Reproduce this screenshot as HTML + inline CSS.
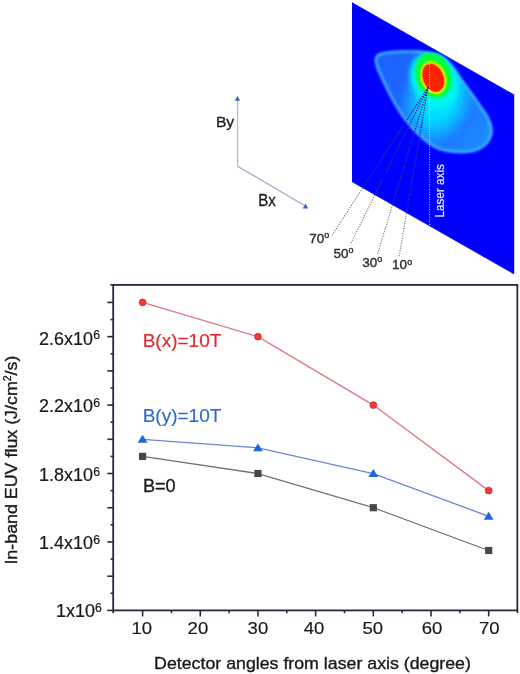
<!DOCTYPE html>
<html><head><meta charset="utf-8"><title>EUV flux vs detector angle</title>
<style>
html,body{margin:0;padding:0;background:#fff;}
body{width:520px;height:674px;overflow:hidden;}
svg{display:block;}
text{font-family:"Liberation Sans",Arial,sans-serif;}
</style></head>
<body>
<svg width="520" height="674" viewBox="0 0 520 674">
<defs>
  <clipPath id="plane"><polygon points="352,2.3 514.2,94.6 514.2,274.4 352,182"/></clipPath>
  <clipPath id="lens"><path d="M374.8,59.0 C375.2,57.3 375.6,55.2 377.5,54.0 C379.4,52.8 382.2,52.1 386.0,51.5 C389.8,50.9 395.2,50.5 400.0,50.3 C404.8,50.1 410.7,50.2 415.0,50.3 C419.3,50.4 422.5,50.5 426.0,51.0 C429.5,51.5 433.2,52.2 436.0,53.0 C438.8,53.8 440.7,54.5 443.0,56.0 C445.3,57.5 447.8,59.6 450.0,62.0 C452.2,64.4 454.5,67.8 456.5,70.5 C458.5,73.2 460.0,75.7 462.0,78.5 C464.0,81.3 466.3,84.5 468.5,87.5 C470.7,90.5 472.8,93.3 475.0,96.5 C477.2,99.7 479.8,103.2 482.0,106.5 C484.2,109.8 486.8,113.1 488.5,116.5 C490.2,119.9 491.8,123.7 492.3,127.0 C492.9,130.3 492.8,133.5 491.8,136.5 C490.8,139.5 489.0,142.6 486.5,145.0 C484.0,147.4 480.9,149.6 477.0,151.0 C473.1,152.4 467.5,152.9 463.0,153.2 C458.5,153.4 454.0,153.0 450.0,152.5 C446.0,152.0 442.5,151.3 439.0,150.0 C435.5,148.7 432.8,147.2 429.0,144.5 C425.2,141.8 420.5,138.1 416.0,133.5 C411.5,128.9 406.3,123.1 402.0,117.0 C397.7,110.9 393.8,104.1 390.0,97.0 C386.2,89.9 381.5,80.0 379.0,74.5 C376.5,69.0 375.9,66.6 375.2,64.0 C374.5,61.4 374.4,60.7 374.8,59.0 Z"/></clipPath>
  <radialGradient id="halo" cx="0" cy="0" r="1" gradientUnits="userSpaceOnUse" gradientTransform="translate(439 99) rotate(55) scale(54 40)">
    <stop offset="0" stop-color="#00f4ff"/>
    <stop offset="0.4" stop-color="#00d8ff"/>
    <stop offset="0.65" stop-color="#10a8ff"/>
    <stop offset="0.88" stop-color="#1a84ff" stop-opacity="0.6"/>
    <stop offset="1" stop-color="#1c6cff" stop-opacity="0"/>
  </radialGradient>
  <linearGradient id="lensbase" gradientUnits="userSpaceOnUse" x1="385" y1="60" x2="485" y2="145">
    <stop offset="0" stop-color="#1a62ff"/>
    <stop offset="0.5" stop-color="#1a6cff"/>
    <stop offset="1" stop-color="#1a8cff"/>
  </linearGradient>
  <filter id="blur06" x="-10%" y="-10%" width="120%" height="120%"><feGaussianBlur stdDeviation="0.6"/></filter>
  <filter id="blur1" x="-20%" y="-20%" width="140%" height="140%"><feGaussianBlur stdDeviation="1.2"/></filter>
  <filter id="blur2" x="-30%" y="-30%" width="160%" height="160%"><feGaussianBlur stdDeviation="2"/></filter>
  <filter id="blur4" x="-40%" y="-40%" width="180%" height="180%"><feGaussianBlur stdDeviation="4"/></filter>

</defs>

<!-- ===== 3D plane ===== -->
<polygon points="352,2.3 514.2,94.6 514.2,274.4 352,182" fill="#0000ff"/>
<g filter="url(#blur1)">
<g clip-path="url(#lens)">
  <rect x="370" y="45" width="130" height="112" fill="url(#lensbase)"/>
  <ellipse cx="439" cy="99" rx="54" ry="40" transform="rotate(55 439 99)" fill="url(#halo)"/>
  <path d="M374.8,59.0 C375.2,57.3 375.6,55.2 377.5,54.0 C379.4,52.8 382.2,52.1 386.0,51.5 C389.8,50.9 395.2,50.5 400.0,50.3 C404.8,50.1 410.7,50.2 415.0,50.3 C419.3,50.4 422.5,50.5 426.0,51.0 C429.5,51.5 433.2,52.2 436.0,53.0 C438.8,53.8 440.7,54.5 443.0,56.0 C445.3,57.5 447.8,59.6 450.0,62.0 C452.2,64.4 454.5,67.8 456.5,70.5 C458.5,73.2 460.0,75.7 462.0,78.5 C464.0,81.3 466.3,84.5 468.5,87.5 C470.7,90.5 472.8,93.3 475.0,96.5 C477.2,99.7 479.8,103.2 482.0,106.5 C484.2,109.8 486.8,113.1 488.5,116.5 C490.2,119.9 491.8,123.7 492.3,127.0 C492.9,130.3 492.8,133.5 491.8,136.5 C490.8,139.5 489.0,142.6 486.5,145.0 C484.0,147.4 480.9,149.6 477.0,151.0 C473.1,152.4 467.5,152.9 463.0,153.2 C458.5,153.4 454.0,153.0 450.0,152.5 C446.0,152.0 442.5,151.3 439.0,150.0 C435.5,148.7 432.8,147.2 429.0,144.5 C425.2,141.8 420.5,138.1 416.0,133.5 C411.5,128.9 406.3,123.1 402.0,117.0 C397.7,110.9 393.8,104.1 390.0,97.0 C386.2,89.9 381.5,80.0 379.0,74.5 C376.5,69.0 375.9,66.6 375.2,64.0 C374.5,61.4 374.4,60.7 374.8,59.0 Z" fill="none" stroke="#48b8ff" stroke-width="4.4" filter="url(#blur1)"/>
  <ellipse cx="434.5" cy="80" rx="23" ry="29" transform="rotate(-30 434.5 80)" fill="#00f4f0" filter="url(#blur2)"/>
</g>
</g>
<g filter="url(#blur06)">
<ellipse cx="433.5" cy="75.5" rx="17.8" ry="23.4" transform="rotate(-20 433.5 75.5)" fill="#00ff40" filter="url(#blur1)"/>
<ellipse cx="433.3" cy="77.4" rx="13.6" ry="18" transform="rotate(-22 433.3 77.4)" fill="#50ff10" filter="url(#blur06)"/>
<ellipse cx="433.25" cy="77.8" rx="11.8" ry="16.1" transform="rotate(-22 433.25 77.8)" fill="#ffff00" filter="url(#blur06)"/>
<ellipse cx="433.25" cy="77.8" rx="10.9" ry="15.2" transform="rotate(-22 433.25 77.8)" fill="#ff8a00" filter="url(#blur06)"/>
<ellipse cx="433.25" cy="77.8" rx="10.1" ry="14.4" transform="rotate(-22 433.25 77.8)" fill="#ff2400"/>
</g>
<!-- angle lines -->
<g stroke-width="1.1" stroke-dasharray="1.1 1.4" fill="none">
<g stroke="#6e6e6e">
<line x1="428" y1="87.5" x2="332.3" y2="234.9"/>
  <line x1="428" y1="87.5" x2="350.8" y2="243.5"/>
  <line x1="428" y1="87.5" x2="377.3" y2="255"/>
  <line x1="428" y1="87.5" x2="399.2" y2="256.2"/>
</g>
<g stroke="#0014b8" clip-path="url(#plane)">
<line x1="428" y1="87.5" x2="332.3" y2="234.9"/>
  <line x1="428" y1="87.5" x2="350.8" y2="243.5"/>
  <line x1="428" y1="87.5" x2="377.3" y2="255"/>
  <line x1="428" y1="87.5" x2="399.2" y2="256.2"/>
</g>
</g>
<line x1="429.6" y1="64" x2="429.6" y2="226" stroke="#d0dcff" stroke-width="1" stroke-dasharray="1.2 1.3" opacity="0.85"/>
<text transform="translate(444 217.6) rotate(-90)" font-size="12.9" fill="#e6ecff" stroke="#e6ecff" stroke-width="0.25" textLength="53.6" lengthAdjust="spacingAndGlyphs">Laser axis</text>

<!-- angle labels -->
<g font-size="12.2" fill="#2e2e2e" stroke="#2e2e2e" stroke-width="0.35">
  <text x="309.2" y="242.5" textLength="15" lengthAdjust="spacingAndGlyphs">70</text><text x="324.2" y="237.7" font-size="9">o</text>
  <text x="333.5" y="258" textLength="15" lengthAdjust="spacingAndGlyphs">50</text><text x="348.5" y="253.3" font-size="9">o</text>
  <text x="362.2" y="267.3" textLength="15" lengthAdjust="spacingAndGlyphs">30</text><text x="377.3" y="262.2" font-size="9">o</text>
  <text x="392" y="269.4" textLength="15" lengthAdjust="spacingAndGlyphs">10</text><text x="407.3" y="264.9" font-size="9">o</text>
</g>

<!-- By / Bx axes -->
<g stroke-width="1.3" fill="none">
  <line x1="237.6" y1="166.2" x2="237.6" y2="99" stroke="#b2bbe0"/>
  <line x1="237.6" y1="166.2" x2="304" y2="205.3" stroke="#a2a9cc"/>
</g>
<g fill="#3f62b8">
  <polygon points="237.4,96 240,100.8 234.8,100.8"/>
  <polygon points="305.4,203.6 308.2,208.4 302.7,208.4"/>
</g>
<text x="215.9" y="127" font-size="15" fill="#1a1a1a" stroke="#1a1a1a" stroke-width="0.3" textLength="18.3" lengthAdjust="spacingAndGlyphs">By</text>
<text x="258.3" y="205.8" font-size="15.6" fill="#1a1a1a" stroke="#1a1a1a" stroke-width="0.3" textLength="17.6" lengthAdjust="spacingAndGlyphs">Bx</text>

<!-- ===== Chart ===== -->
<rect x="113.2" y="284.9" width="404.15" height="325.5" fill="none" stroke="#222a40" stroke-width="1.8"/>
<g stroke="#222a40" stroke-width="1.6">
  <!-- y major ticks -->
  <line x1="107.3" y1="610.4" x2="113.2" y2="610.4"/>
  <line x1="107.3" y1="576.2" x2="113.2" y2="576.2"/>
  <line x1="107.3" y1="541.96" x2="113.2" y2="541.96"/>
  <line x1="107.3" y1="507.74" x2="113.2" y2="507.74"/>
  <line x1="107.3" y1="473.52" x2="113.2" y2="473.52"/>
  <line x1="107.3" y1="439.3" x2="113.2" y2="439.3"/>
  <line x1="107.3" y1="405.08" x2="113.2" y2="405.08"/>
  <line x1="107.3" y1="370.86" x2="113.2" y2="370.86"/>
  <line x1="107.3" y1="336.64" x2="113.2" y2="336.64"/>
  <line x1="107.3" y1="302.42" x2="113.2" y2="302.42"/>
  <!-- y minor ticks -->
  <line x1="110.5" y1="593.3" x2="113.2" y2="593.3"/>
  <line x1="110.5" y1="559.1" x2="113.2" y2="559.1"/>
  <line x1="110.5" y1="524.85" x2="113.2" y2="524.85"/>
  <line x1="110.5" y1="490.63" x2="113.2" y2="490.63"/>
  <line x1="110.5" y1="456.41" x2="113.2" y2="456.41"/>
  <line x1="110.5" y1="422.19" x2="113.2" y2="422.19"/>
  <line x1="110.5" y1="387.97" x2="113.2" y2="387.97"/>
  <line x1="110.5" y1="353.75" x2="113.2" y2="353.75"/>
  <line x1="110.5" y1="319.53" x2="113.2" y2="319.53"/>
  <line x1="110.2" y1="284.9" x2="113.2" y2="284.9"/>
  <!-- x major ticks -->
  <line x1="142.6" y1="610.4" x2="142.6" y2="616.4"/>
  <line x1="200.28" y1="610.4" x2="200.28" y2="616.4"/>
  <line x1="257.96" y1="610.4" x2="257.96" y2="616.4"/>
  <line x1="315.64" y1="610.4" x2="315.64" y2="616.4"/>
  <line x1="373.32" y1="610.4" x2="373.32" y2="616.4"/>
  <line x1="431" y1="610.4" x2="431" y2="616.4"/>
  <line x1="488.68" y1="610.4" x2="488.68" y2="616.4"/>
  <!-- x minor ticks -->
  <line x1="113.2" y1="610.4" x2="113.2" y2="613.2"/>
  <line x1="171.44" y1="610.4" x2="171.44" y2="613.2"/>
  <line x1="229.12" y1="610.4" x2="229.12" y2="613.2"/>
  <line x1="286.8" y1="610.4" x2="286.8" y2="613.2"/>
  <line x1="344.48" y1="610.4" x2="344.48" y2="613.2"/>
  <line x1="402.16" y1="610.4" x2="402.16" y2="613.2"/>
  <line x1="459.84" y1="610.4" x2="459.84" y2="613.2"/>
  <line x1="517.5" y1="610.4" x2="517.5" y2="613.2"/>
</g>

<!-- y tick labels -->
<g font-size="18.2" fill="#1a1a1a" stroke="#1a1a1a" stroke-width="0.2">
  <text x="39.1" y="344.5" textLength="53.8" lengthAdjust="spacingAndGlyphs">2.6x10</text><text x="93.3" y="339.4" font-size="12.3">6</text>
  <text x="39.1" y="412.2" textLength="53.8" lengthAdjust="spacingAndGlyphs">2.2x10</text><text x="93.3" y="407.1" font-size="12.3">6</text>
  <text x="39.1" y="481.2" textLength="53.8" lengthAdjust="spacingAndGlyphs">1.8x10</text><text x="93.3" y="476.1" font-size="12.3">6</text>
  <text x="39.1" y="549.2" textLength="53.8" lengthAdjust="spacingAndGlyphs">1.4x10</text><text x="93.3" y="544.2" font-size="12.3">6</text>
  <text x="56" y="617.1" textLength="39" lengthAdjust="spacingAndGlyphs">1x10</text><text x="95.1" y="611.9" font-size="12.3">6</text>
</g>
<!-- x tick labels -->
<g font-size="17.2" fill="#1a1a1a" stroke="#1a1a1a" stroke-width="0.2" text-anchor="middle">
  <text x="141.8" y="633.5" textLength="20.6" lengthAdjust="spacingAndGlyphs">10</text>
  <text x="197.9" y="633.5" textLength="20.6" lengthAdjust="spacingAndGlyphs">20</text>
  <text x="257.9" y="633.5" textLength="20.6" lengthAdjust="spacingAndGlyphs">30</text>
  <text x="314" y="633.5" textLength="20.6" lengthAdjust="spacingAndGlyphs">40</text>
  <text x="372.8" y="633.5" textLength="20.6" lengthAdjust="spacingAndGlyphs">50</text>
  <text x="432" y="633.5" textLength="20.6" lengthAdjust="spacingAndGlyphs">60</text>
  <text x="489.2" y="633.5" textLength="20.6" lengthAdjust="spacingAndGlyphs">70</text>
</g>

<!-- axis titles -->
<text x="154.1" y="668.5" font-size="17" fill="#1a1a1a" stroke="#1a1a1a" stroke-width="0.35" textLength="316.8" lengthAdjust="spacingAndGlyphs">Detector angles from laser axis (degree)</text>
<text transform="translate(16.6 564.6) rotate(-90)" font-size="17" fill="#1a1a1a" stroke="#1a1a1a" stroke-width="0.35" textLength="209" lengthAdjust="spacingAndGlyphs">In-band EUV flux (J/cm<tspan font-size="10" dy="-6">2</tspan><tspan dy="6">/s)</tspan></text>

<!-- series -->
<polyline points="142.6,439.3 257.96,447.86 373.32,473.52 488.68,516.29" fill="none" stroke="#6a86d4" stroke-width="1.3"/>
<polyline points="142.6,456.41 257.96,473.52 373.32,507.74 488.68,550.51" fill="none" stroke="#727272" stroke-width="1.3"/>
<polyline points="142.6,302.42 257.96,336.64 373.32,405.08 488.68,490.63" fill="none" stroke="#dc7682" stroke-width="1.3"/>

<g fill="#f23a3a" stroke="#cc2c2c" stroke-width="0.8">
  <circle cx="142.6" cy="302.42" r="3.4"/>
  <circle cx="257.96" cy="336.64" r="3.4"/>
  <circle cx="373.32" cy="405.08" r="3.4"/>
  <circle cx="488.68" cy="490.63" r="3.4"/>
</g>
<g fill="#1f66d8">
  <polygon points="142.6,434.8 147.5,442.7 137.7,442.7"/>
  <polygon points="257.96,443.4 262.86,451.3 253.06,451.3"/>
  <polygon points="373.32,469 378.22,476.9 368.42,476.9"/>
  <polygon points="488.68,511.8 493.58,519.7 483.78,519.7"/>
</g>
<g fill="#474747">
  <rect x="139" y="452.8" width="7.2" height="7.2"/>
  <rect x="254.36" y="469.9" width="7.2" height="7.2"/>
  <rect x="369.72" y="504.1" width="7.2" height="7.2"/>
  <rect x="485.08" y="546.9" width="7.2" height="7.2"/>
</g>

<!-- legend labels -->
<text x="142.7" y="347" font-size="18.8" fill="#e3262b" stroke="#e3262b" stroke-width="0.15" textLength="78.6" lengthAdjust="spacingAndGlyphs">B(x)=10T</text>
<text x="142.7" y="421.6" font-size="18.8" fill="#2c6bd0" stroke="#2c6bd0" stroke-width="0.15" textLength="78.6" lengthAdjust="spacingAndGlyphs">B(y)=10T</text>
<text x="142.9" y="492.4" font-size="18.2" fill="#1a1a1a" stroke="#1a1a1a" stroke-width="0.3" textLength="32.8" lengthAdjust="spacingAndGlyphs">B=0</text>
</svg>
</body></html>
